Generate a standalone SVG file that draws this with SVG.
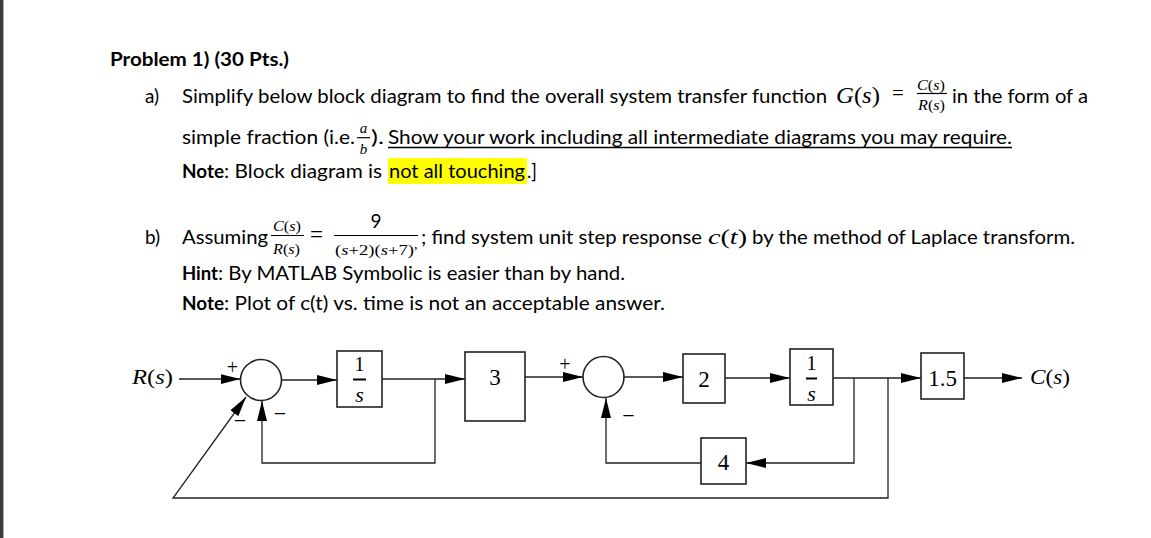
<svg xmlns="http://www.w3.org/2000/svg" width="1151" height="538" viewBox="0 0 1151 538">
<style>
.t{font-family:Lato,"Open Sans","Liberation Sans",sans-serif;font-size:19px;fill:#000}
.b{font-weight:bold}
.n{font-family:"Liberation Serif","DejaVu Serif",serif;fill:#000}
.i{font-style:italic}
.w{fill:none;stroke:#222;stroke-width:1.3}
.a{marker-end:url(#ah)}
.box{fill:#fff;stroke:#222;stroke-width:1.6}
.bar{stroke:#000;stroke-width:1.2}
.c{text-anchor:middle}
</style>
<defs>
<marker id="ah" viewBox="0 0 20 10" refX="20" refY="5" markerWidth="20" markerHeight="10" orient="auto" markerUnits="userSpaceOnUse">
<path d="M0,0 L20,5 L0,10 Z" fill="#000"/>
</marker>
</defs>
<rect x="0" y="0" width="1151" height="538" fill="#fff"/>
<rect x="0" y="0" width="3.4" height="538" fill="#3c3c3c"/>

<g id="problem-text">
<text class="t b" x="110" y="66" textLength="179" lengthAdjust="spacingAndGlyphs">Problem 1) (30 Pts.)</text>
<text class="t" x="145" y="103">a)</text>
<text class="t" x="182" y="103" textLength="645" lengthAdjust="spacingAndGlyphs">Simplify below block diagram to find the overall system transfer function</text>
<text class="n" x="836" y="103" font-size="23" textLength="44" lengthAdjust="spacingAndGlyphs"><tspan class="i">G</tspan>(<tspan class="i">s</tspan>)</text>
<text class="n" x="892" y="100" font-size="21">=</text>
<text class="n" x="917" y="90" font-size="15" textLength="28" lengthAdjust="spacingAndGlyphs"><tspan class="i">C</tspan>(<tspan class="i">s</tspan>)</text>
<line class="bar" x1="917" y1="93.5" x2="947" y2="93.5"/>
<text class="n" x="918" y="110" font-size="15" textLength="27" lengthAdjust="spacingAndGlyphs"><tspan class="i">R</tspan>(<tspan class="i">s</tspan>)</text>
<text class="t" x="952" y="103" textLength="136" lengthAdjust="spacingAndGlyphs">in the form of a</text>

<text class="t" x="182" y="144" textLength="173" lengthAdjust="spacingAndGlyphs">simple fraction (i.e.</text>
<text class="n i c" x="363.5" y="133" font-size="15">a</text>
<line class="bar" x1="357" y1="137.7" x2="370" y2="137.7"/>
<text class="n i c" x="363.5" y="154" font-size="15">b</text>
<text class="t" x="371" y="144" textLength="13" lengthAdjust="spacingAndGlyphs">).</text>
<text class="t" x="388" y="144" textLength="624" lengthAdjust="spacingAndGlyphs">Show your work including all intermediate diagrams you may require.</text>
<line x1="388" y1="147.5" x2="1012" y2="147.5" stroke="#000" stroke-width="1.5"/>

<rect x="388" y="158" width="139" height="26" fill="#ffff00"/>
<text class="t b" x="182" y="177.5" textLength="42" lengthAdjust="spacingAndGlyphs">Note</text>
<text class="t" x="224" y="177.5" textLength="158" lengthAdjust="spacingAndGlyphs">: Block diagram is</text>
<text class="t" x="389" y="177.5" textLength="136" lengthAdjust="spacingAndGlyphs">not all touching</text>
<text class="t" x="527" y="177.5" textLength="10" lengthAdjust="spacingAndGlyphs">.]</text>

<text class="t" x="145" y="243.5">b)</text>
<text class="t" x="182" y="243.5" textLength="86" lengthAdjust="spacingAndGlyphs">Assuming</text>
<text class="n" x="273" y="231" font-size="15" textLength="28" lengthAdjust="spacingAndGlyphs"><tspan class="i">C</tspan>(<tspan class="i">s</tspan>)</text>
<line class="bar" x1="271" y1="235.5" x2="304" y2="235.5"/>
<text class="n" x="273" y="253.5" font-size="15" textLength="27" lengthAdjust="spacingAndGlyphs"><tspan class="i">R</tspan>(<tspan class="i">s</tspan>)</text>
<text class="n" x="310" y="242" font-size="23">=</text>
<text class="t c" x="376" y="228" font-size="12">9</text>
<line class="bar" x1="334" y1="235.5" x2="418" y2="235.5"/>
<text class="n" x="335" y="255" font-size="15" textLength="79" lengthAdjust="spacingAndGlyphs">(<tspan class="i">s</tspan>+2)(<tspan class="i">s</tspan>+7)</text>
<text class="n" x="414" y="249" font-size="14">,</text>
<text class="t" x="421" y="243.5" textLength="281" lengthAdjust="spacingAndGlyphs">; find system unit step response</text>
<text class="n" x="708" y="243.5" font-size="22" textLength="39" lengthAdjust="spacingAndGlyphs"><tspan class="i">c</tspan>(<tspan class="i">t</tspan>)</text>
<text class="t" x="752" y="243.5" textLength="323" lengthAdjust="spacingAndGlyphs">by the method of Laplace transform.</text>

<text class="t b" x="182" y="280" textLength="36" lengthAdjust="spacingAndGlyphs">Hint</text>
<text class="t" x="218" y="280" textLength="407" lengthAdjust="spacingAndGlyphs">: By MATLAB Symbolic is easier than by hand.</text>
<text class="t b" x="182" y="310" textLength="42" lengthAdjust="spacingAndGlyphs">Note</text>
<text class="t" x="224" y="310" textLength="441" lengthAdjust="spacingAndGlyphs">: Plot of c(t) vs. time is not an acceptable answer.</text>
</g>

<g id="connectors">
<path class="w a" d="M179,379 H240.5"/>
<path class="w a" d="M282,380 H337"/>
<path class="w a" d="M382,379 H465"/>
<path class="w a" d="M435,379 V463 H262 V401"/>
<path class="w a" d="M525,377 H583"/>
<path class="w a" d="M624,377 H683"/>
<path class="w a" d="M725,378 H790"/>
<path class="w a" d="M833,378 H921"/>
<path class="w a" d="M964,378 H1022"/>
<path class="w a" d="M854,378 V463 H746"/>
<path class="w a" d="M701,463 H606 V398"/>
<path class="w a" d="M888,378 V498 H173 L246,397"/>
</g>

<g id="input-R">
<text class="n" x="132" y="384" font-size="22" textLength="41" lengthAdjust="spacingAndGlyphs"><tspan class="i">R</tspan>(<tspan class="i">s</tspan>)</text>
</g>
<g id="sum1">
<circle cx="261" cy="380" r="20.5" class="box"/>
<text class="n c" x="232.5" y="373.5" font-size="20">+</text>
<text class="n c" x="280" y="421" font-size="22">−</text>
<text class="n c" x="240" y="427.5" font-size="22">−</text>
</g>
<g id="block-integrator1">
<rect x="337" y="351" width="45" height="56" class="box"/>
<text class="n c" x="359.5" y="370.5" font-size="20">1</text>
<line x1="353" y1="379.5" x2="366" y2="379.5" stroke="#000" stroke-width="2"/>
<text class="n i c" x="359.5" y="402" font-size="22">s</text>
</g>
<g id="block-3">
<rect x="465" y="352" width="60" height="69" class="box"/>
<text class="n c" x="495" y="385" font-size="23">3</text>
</g>
<g id="sum2">
<circle cx="603.5" cy="377" r="20.5" class="box"/>
<text class="n c" x="565" y="370.5" font-size="20">+</text>
<text class="n c" x="628.5" y="422.5" font-size="22">−</text>
</g>
<g id="block-2">
<rect x="683" y="354" width="42" height="49" class="box"/>
<text class="n c" x="704" y="386.5" font-size="23">2</text>
</g>
<g id="block-integrator2">
<rect x="790" y="349" width="43" height="56" class="box"/>
<text class="n c" x="811.5" y="369.5" font-size="20">1</text>
<line x1="806" y1="378.5" x2="817" y2="378.5" stroke="#000" stroke-width="2"/>
<text class="n i c" x="811.5" y="401" font-size="22">s</text>
</g>
<g id="block-4">
<rect x="701" y="438" width="45" height="46" class="box"/>
<text class="n c" x="723.5" y="470" font-size="23">4</text>
</g>
<g id="block-1.5">
<rect x="921" y="353" width="43" height="46" class="box"/>
<text class="n c" x="942.5" y="385.5" font-size="23">1.5</text>
</g>
<g id="output-C">
<text class="n" x="1030" y="384" font-size="22" textLength="40" lengthAdjust="spacingAndGlyphs"><tspan class="i">C</tspan>(<tspan class="i">s</tspan>)</text>
</g>
</svg>
